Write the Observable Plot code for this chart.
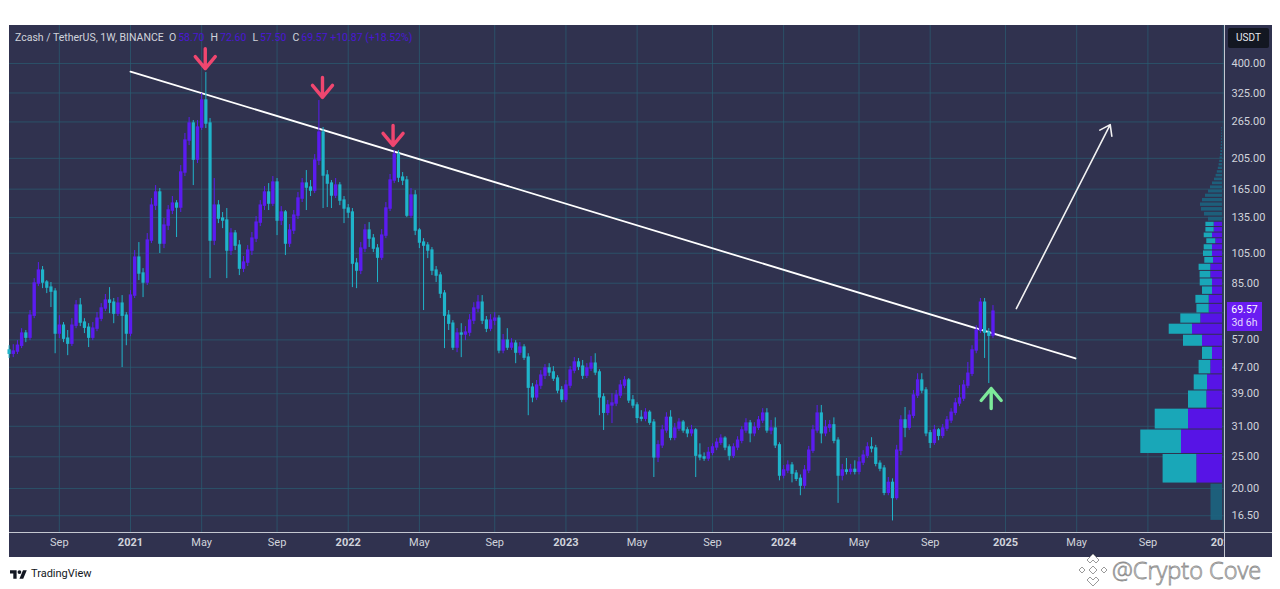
<!DOCTYPE html>
<html>
<head>
<meta charset="utf-8">
<script src="https://cdn.jsdelivr.net/npm/d3@7"></script>
<script src="https://cdn.jsdelivr.net/npm/@observablehq/plot@0.6"></script>
<style>
  html, body { margin: 0; padding: 0; background: #ffffff; }
  #wrap { position: relative; width: 1280px; height: 589px; overflow: hidden; background: #ffffff; font-family: Roboto, "Open Sans", sans-serif; }
  .abs { position: absolute; }
  #main { position: absolute; left: 9px; top: 25px; }
  #vp { position: absolute; left: 1002px; top: 25px; }
  #header { left: 15px; top: 31px; font-size: 10.5px; line-height: 14px; color: #d1d4dc; white-space: nowrap; }
  #header .v { color: #4a17d4; margin-right: 6px; }
  #header .k { margin-right: 2px; }
  #usdt { left: 1228px; top: 28px; width: 41px; height: 20px; background: #131722; color: #e6e8ee; font-size: 10px; line-height: 20px; text-align: center; border-radius: 2px; }
  #lastbox { left: 1227px; width: 35px; height: 29px; background: #6a1df2; color: #ffffff; font-size: 10.5px; text-align: center; line-height: 13px; padding-top: 1px; box-sizing: border-box; }
  #lastbox .cd { color: #e4dcff; }
  #footer { left: 10px; top: 567px; font-size: 11px; color: #131722; display: flex; align-items: center; gap: 4px; }
  #wm { left: 1077px; top: 553px; display: flex; align-items: center; gap: 3px; }
  #wm span { font-family: "Open Sans", sans-serif; font-weight: 300; font-size: 23.5px; color: #fbfbfb; -webkit-text-stroke: 0.8px #8f8f8f; letter-spacing: 0px; white-space: nowrap; }
</style>
</head>
<body>
<div id="wrap">
  <div id="main"></div>
  <div id="vp"></div>
</div>
<script>
// ---------------- DATA ----------------
const pairTitle = "Zcash / TetherUS, 1W, BINANCE";
const firstWeek = "2020-06-15";
const firstOpen = 52.9;
const closes = [
  51.7, 52.5, 54.7, 59.6, 57.9, 67.6, 84.8, 92.9, 85.4, 82.4,
  80.1, 59.6, 63.0, 57.5, 55.5, 63.0, 72.6, 64.4, 62.1, 57.9,
  61.7, 66.2, 71.1, 75.2, 74.1, 68.6, 73.6, 67.6, 59.6, 77.9,
  101.8, 91.0, 85.4, 114.8, 146.9, 161.1, 112.4, 127.6, 141.9, 149.0,
  144.9, 185.5, 232.4, 262.0, 203.2, 254.7, 308.1, 262.0, 114.8, 146.9,
  134.1, 132.2, 107.0, 120.6, 110.8, 94.2, 98.3, 107.0, 116.4, 130.3,
  146.9, 161.1, 149.0, 172.8, 132.2, 139.9, 112.4, 123.2, 136.9, 154.4,
  171.6, 166.8, 163.3, 201.8, 245.9, 181.6, 171.6, 157.7, 169.2, 152.2,
  143.9, 139.9, 97.6, 92.9, 108.5, 123.2, 116.4, 108.5, 101.8, 118.9,
  143.9, 175.3, 210.5, 179.0, 175.3, 136.9, 157.7, 123.2, 113.2, 110.8,
  107.0, 92.9, 89.7, 79.0, 67.6, 63.9, 54.0, 59.6, 59.2, 60.0,
  65.3, 71.1, 74.1, 65.3, 61.7, 65.3, 66.2, 52.9, 56.7, 54.0,
  55.5, 52.1, 54.0, 50.3, 40.7, 38.0, 41.3, 44.3, 46.6, 45.3,
  43.4, 39.9, 37.4, 41.3, 45.9, 48.6, 47.2, 44.3, 46.6, 48.2,
  45.3, 38.0, 34.1, 35.9, 36.4, 38.5, 41.3, 42.8, 37.2, 35.9,
  32.9, 32.7, 34.1, 31.8, 24.9, 27.1, 30.1, 32.9, 28.6, 30.5,
  31.8, 30.1, 29.5, 30.1, 25.2, 24.9, 24.7, 25.7, 26.7, 27.6,
  28.4, 26.7, 25.2, 26.7, 28.0, 30.1, 31.6, 29.5, 30.7, 32.3,
  33.9, 30.1, 30.5, 27.1, 21.9, 22.7, 23.5, 22.2, 21.4, 20.4,
  22.7, 26.1, 30.1, 33.9, 29.5, 30.7, 31.2, 28.0, 21.9, 22.7,
  22.5, 22.8, 22.5, 24.0, 25.2, 26.7, 26.5, 23.8, 23.0, 19.4,
  20.8, 18.7, 26.1, 32.3, 30.7, 33.4, 38.5, 42.8, 39.9, 29.5,
  27.6, 30.1, 29.0, 30.5, 32.3, 34.1, 36.4, 37.7, 41.3, 44.9,
  52.9, 60.9, 74.1, 60.0, 58.7, 69.57
];
const highs = [
  54.7, 55.1, 56.7, 61.7, 60.9, 70.1, 87.8, 98.3, 95.6, 86.6,
  85.4, 81.8, 67.6, 64.4, 60.9, 66.2, 75.2, 76.3, 66.2, 63.9,
  64.4, 69.1, 73.6, 78.5, 82.4, 76.3, 76.8, 77.9, 69.1, 80.7,
  107.0, 113.2, 94.2, 120.6, 154.4, 169.2, 165.7, 134.1, 146.9, 156.6,
  152.2, 194.8, 244.2, 273.3, 267.6, 267.6, 323.7, 375.4, 271.4, 177.8,
  152.2, 139.9, 143.9, 124.9, 123.2, 114.8, 102.6, 110.8, 121.5, 136.0,
  152.2, 168.0, 171.6, 180.3, 177.8, 145.9, 141.9, 128.5, 141.9, 161.1,
  177.8, 188.1, 175.3, 210.5, 308.1, 254.7, 188.1, 175.3, 177.8, 172.8,
  156.6, 148.0, 143.9, 101.1, 113.2, 128.5, 130.3, 119.8, 111.6, 124.1,
  150.1, 182.9, 216.6, 216.6, 185.5, 180.3, 165.7, 163.3, 124.9, 116.4,
  113.2, 109.3, 95.6, 91.6, 80.7, 70.1, 65.3, 61.7, 63.9, 62.6,
  68.1, 74.1, 77.9, 77.9, 67.2, 68.1, 69.1, 67.6, 59.2, 61.7,
  57.5, 56.7, 55.9, 55.1, 51.7, 41.9, 42.8, 45.9, 47.9, 48.2,
  47.2, 44.3, 41.0, 42.8, 47.2, 50.3, 50.0, 49.3, 48.2, 50.7,
  51.7, 46.2, 39.0, 37.2, 39.0, 39.9, 42.8, 44.0, 43.4, 38.5,
  36.6, 34.6, 35.1, 34.6, 32.5, 28.0, 31.2, 34.1, 34.6, 31.6,
  32.7, 32.3, 30.7, 31.2, 30.5, 27.4, 25.7, 26.7, 27.4, 28.4,
  29.2, 28.8, 27.2, 27.4, 28.8, 30.9, 32.7, 32.3, 31.8, 33.2,
  35.1, 35.1, 32.3, 32.9, 27.6, 23.5, 24.3, 24.0, 22.7, 22.0,
  23.5, 26.9, 31.2, 35.9, 35.9, 32.3, 32.3, 32.9, 28.6, 23.7,
  24.7, 23.7, 24.3, 24.9, 26.1, 27.6, 28.6, 27.1, 24.3, 23.5,
  21.6, 21.4, 27.1, 33.4, 35.4, 34.6, 39.9, 44.9, 44.9, 40.7,
  30.1, 31.2, 30.5, 31.4, 33.2, 35.1, 37.7, 41.3, 42.8, 48.6,
  54.7, 63.0, 76.3, 76.3, 61.7, 72.6
];
const lows = [
  50.0, 50.3, 51.4, 53.6, 55.9, 56.7, 66.2, 83.0, 81.8, 79.0,
  71.6, 51.7, 57.5, 55.9, 51.0, 54.4, 61.7, 62.6, 59.6, 54.0,
  56.7, 60.4, 64.8, 69.6, 68.6, 63.9, 67.2, 46.9, 54.7, 58.3,
  76.3, 86.6, 76.8, 83.6, 112.4, 141.9, 104.8, 108.5, 123.2, 137.9,
  117.3, 139.9, 180.3, 224.3, 169.2, 197.6, 249.4, 252.9, 87.8, 110.8,
  129.4, 124.9, 87.8, 103.3, 107.0, 89.7, 91.6, 95.6, 103.3, 113.2,
  126.7, 141.9, 141.9, 145.9, 118.9, 127.6, 103.3, 109.3, 119.8, 133.1,
  150.1, 141.9, 156.6, 159.9, 194.8, 143.9, 144.9, 143.9, 154.4, 146.9,
  129.4, 134.1, 82.4, 81.8, 90.3, 105.5, 109.3, 105.5, 85.4, 99.7,
  116.4, 140.9, 171.6, 172.8, 169.2, 135.0, 134.1, 118.9, 108.5, 70.1,
  101.1, 89.7, 85.4, 76.3, 53.6, 60.9, 52.9, 52.1, 50.3, 56.7,
  58.3, 63.5, 69.1, 63.5, 60.0, 60.4, 63.0, 51.7, 51.7, 52.9,
  52.9, 48.2, 51.0, 49.3, 33.4, 36.6, 37.2, 40.2, 43.1, 44.0,
  42.5, 39.0, 36.6, 36.6, 40.4, 44.9, 45.9, 43.1, 43.4, 45.6,
  44.3, 33.4, 30.1, 33.4, 31.6, 35.6, 37.7, 40.4, 36.4, 35.1,
  31.6, 32.0, 32.0, 31.2, 21.6, 24.0, 26.5, 29.5, 28.0, 28.0,
  29.9, 29.5, 28.6, 28.8, 21.6, 24.3, 24.2, 24.2, 25.2, 26.1,
  27.1, 26.1, 24.3, 24.7, 26.1, 27.4, 29.5, 27.6, 28.8, 30.1,
  31.6, 29.5, 29.2, 26.5, 21.1, 21.4, 22.2, 20.8, 21.0, 19.0,
  19.9, 22.2, 25.6, 29.5, 27.4, 28.8, 29.7, 27.4, 18.0, 21.1,
  22.0, 22.0, 22.0, 22.0, 23.5, 24.7, 25.7, 23.3, 22.5, 19.0,
  19.0, 15.9, 18.4, 25.2, 28.6, 30.1, 32.7, 37.7, 39.0, 28.8,
  26.5, 27.1, 28.0, 28.4, 29.9, 31.6, 33.4, 35.6, 36.9, 40.4,
  44.0, 51.7, 59.6, 50.0, 41.9, 57.5
];
const countdown = "3d 6h";

// price axis
const priceTicks = [400, 325, 265, 205, 165, 135, 105, 85, 57, 47, 39, 31, 25, 20, 16.5];
const gridPrices = [400, 325, 265, 205, 165, 135, 105, 85, 69, 57, 47, 39, 31, 25, 20, 16.5];
// time axis
const timeTickDates = ["2020-09-07","2021-01-04","2021-05-03","2021-09-06","2022-01-03","2022-05-02","2022-09-05",
  "2023-01-02","2023-05-01","2023-09-04","2024-01-01","2024-05-06","2024-09-02","2025-01-06","2025-05-05","2025-09-01","2026-01-05"];
const timeTickLabels = ["Sep","2021","May","Sep","2022","May","Sep","2023","May","Sep","2024","May","Sep","2025","May","Sep","2026"];

// drawings
const trendDates = ["2021-01-04", "2025-05-03"];
const trendPrices = [378, 50];
const projectionDates = ["2025-01-24", "2025-06-30"];
const projectionPrices = [71.1, 260];
const sellMarkDates = ["2021-05-09", "2021-11-21", "2022-03-19"];
const sellMarkPrices = [414, 338, 241];
const buyMarkDates = ["2024-12-13"];
const buyMarkPrices = [37.7];

// visible-range volume profile (rows of equal price size)
const vpRowStart = 15.9;
const vpRowSize = 4.8;
const vpUp = [2.5, 25.7, 41, 34, 15.7, 15, 11.7, 10, 20, 30, 21.7, 13.3, 13.3, 10, 10, 11.7, 11.7, 9, 10, 10, 6.7, 10, 8.3, 8.3,
  7, 9, 10.5, 11, 10, 8.5, 7, 6, 5, 4, 3.2, 2.6, 2.1, 1.7, 1.4, 1.2, 1, 0.8, 0.7, 0.6, 0.5, 0.5, 0.5, 0.4, 0.4, 0.4];
const vpDown = [9, 33.7, 40.7, 33.3, 18.3, 13.3, 11.7, 10, 19, 23.3, 20, 12.3, 13.3, 10, 12.3, 10.7, 11.7, 8.7, 9, 8.3, 9, 8.3, 8.3, 8.3,
  7, 9, 10.5, 11, 10, 8.5, 7, 6, 5, 4, 3.2, 2.6, 2.1, 1.7, 1.4, 1.2, 1, 0.8, 0.7, 0.6, 0.5, 0.5, 0.5, 0.4, 0.4, 0.4];
const vpValueAreaFirst = 1, vpValueAreaLast = 23;

// ---------------- STYLE ----------------
const BG = "#30324f", GRID = "#2a5e74", TXT = "#d1d4dc";
const UP = "#5b1cf0", DOWN = "#1fb4ca";
const VP_UP = "#5714e6", VP_DOWN = "#19a7b8", VP_DIM = "#1c6480";
const RED = "#f0466f", GREEN = "#7de99a";

// ---------------- BUILD ----------------
const D = s => new Date(s + "T00:00:00Z");
const start = D(firstWeek);
const candles = closes.map((c, i) => {
  const open = i === 0 ? firstOpen : closes[i - 1];
  return {date: d3.utcDay.offset(start, 7 * i), open, close: c, high: highs[i], low: lows[i],
          top: Math.max(open, c), bot: Math.min(open, c), up: c >= open};
});
const upC = candles.filter(d => d.up), downC = candles.filter(d => !d.up);
const ticks = timeTickDates.map((s, i) => ({date: D(s), label: timeTickLabels[i], year: /^\d{4}$/.test(timeTickLabels[i])}));
const trend = trendDates.map((s, i) => ({date: D(s), price: trendPrices[i]}));
const projection = [{x1: D(projectionDates[0]), y1: projectionPrices[0], x2: D(projectionDates[1]), y2: projectionPrices[1]}];
const sells = sellMarkDates.map((s, i) => ({date: D(s), price: sellMarkPrices[i]}));
const buys = buyMarkDates.map((s, i) => ({date: D(s), price: buyMarkPrices[i]}));
const vpRows = vpUp.map((u, i) => ({low: vpRowStart + i * vpRowSize, high: vpRowStart + (i + 1) * vpRowSize,
  up: u, down: vpDown[i], va: i >= vpValueAreaFirst && i <= vpValueAreaLast}));

const arrowDown = {draw(ctx, size) { const s = Math.sqrt(size / Math.PI);
  ctx.moveTo(0, -s); ctx.lineTo(0, s); ctx.moveTo(-s, -0.2 * s); ctx.lineTo(0, s); ctx.lineTo(s, -0.2 * s); }};
const arrowUp = {draw(ctx, size) { const s = Math.sqrt(size / Math.PI);
  ctx.moveTo(0, s); ctx.lineTo(0, -s); ctx.moveTo(-s, 0.2 * s); ctx.lineTo(0, -s); ctx.lineTo(s, 0.2 * s); }};

const xDomain = [new Date("2020-06-15T17:00:00Z"), new Date("2026-01-07T02:00:00Z")];
const yDomain = [14.66, 523];
const W = 1263, H = 532, MR = 48, MB = 25;

const main = Plot.plot({
  width: W, height: H, marginTop: 0, marginLeft: 0, marginRight: MR, marginBottom: MB,
  style: {background: BG, color: TXT, fontFamily: "Roboto, sans-serif", fontSize: "11px", overflow: "visible"},
  x: {type: "utc", domain: xDomain, axis: null},
  y: {type: "log", domain: yDomain, axis: null},
  marks: [
    Plot.ruleY(gridPrices, {stroke: GRID, strokeOpacity: 0.7}),
    Plot.ruleX(ticks, {x: "date", stroke: GRID, strokeOpacity: 0.7}),
    Plot.line(trend, {x: "date", y: "price", stroke: "#ffffff", strokeWidth: 1.8}),
    Plot.ruleX(downC, {x: "date", y1: "high", y2: "low", stroke: DOWN, strokeWidth: 1}),
    Plot.ruleX(downC, {x: "date", y1: "top", y2: "bot", stroke: DOWN, strokeWidth: 3.2, insetTop: -0.7, insetBottom: -0.7}),
    Plot.ruleX(upC, {x: "date", y1: "high", y2: "low", stroke: UP, strokeWidth: 1}),
    Plot.ruleX(upC, {x: "date", y1: "top", y2: "bot", stroke: UP, strokeWidth: 3.4, insetTop: -0.7, insetBottom: -0.7}),
    Plot.arrow(projection, {x1: "x1", y1: "y1", x2: "x2", y2: "y2", stroke: "#f2f2f2", strokeWidth: 1.6, headLength: 11, headAngle: 70}),
    Plot.dot(sells, {x: "date", y: "price", symbol: arrowDown, r: 10, fill: "none", stroke: RED, strokeWidth: 3.4, strokeLinecap: "round", strokeLinejoin: "round"}),
    Plot.dot(buys, {x: "date", y: "price", symbol: arrowUp, r: 10, fill: "none", stroke: GREEN, strokeWidth: 3.4, strokeLinecap: "round", strokeLinejoin: "round"}),
    Plot.text(priceTicks, {y: d => d, text: d => d.toFixed(2), frameAnchor: "right", textAnchor: "start", dx: 7, fill: TXT, fontSize: 11}),
    Plot.text(ticks.filter(d => !d.year), {x: "date", text: "label", frameAnchor: "bottom", dy: 13, fill: TXT, fontSize: 11}),
    Plot.text(ticks.filter(d => d.year), {x: "date", text: "label", frameAnchor: "bottom", dy: 13, fill: TXT, fontSize: 11, fontWeight: "bold"})
  ]
});
document.getElementById("main").appendChild(main);

const VPW = 220;
const vp = Plot.plot({
  width: VPW, height: H, marginTop: 0, marginLeft: 0, marginRight: 0, marginBottom: MB,
  style: {background: "transparent", overflow: "visible"},
  x: {domain: [0, VPW], reverse: true, axis: null},
  y: {type: "log", domain: yDomain, axis: null},
  marks: [
    Plot.rect(vpRows.filter(d => d.va), {x1: 0, x2: "up", y1: "low", y2: "high", fill: VP_UP, insetTop: 0.5, insetBottom: 0.5}),
    Plot.rect(vpRows.filter(d => d.va), {x1: "up", x2: d => d.up + d.down, y1: "low", y2: "high", fill: VP_DOWN, insetTop: 0.5, insetBottom: 0.5}),
    Plot.rect(vpRows.filter(d => !d.va), {x1: 0, x2: d => d.up + d.down, y1: "low", y2: "high", fill: VP_DIM, fillOpacity: 0.9, insetTop: 0.6, insetBottom: 0.6})
  ]
});
document.getElementById("vp").appendChild(vp);

// ---------------- OVERLAYS ----------------
const wrap = document.getElementById("wrap");
function addDiv(css, html) { const d = document.createElement("div"); d.className = "abs"; d.style.cssText = css; if (html) d.innerHTML = html; wrap.appendChild(d); return d; }

// corner of the axes, separators
addDiv(`left:1225px;top:533px;width:47px;height:24px;background:${BG};`);
addDiv(`left:1224px;top:25px;width:1px;height:532px;background:#c4c7d0;`);
addDiv(`left:9px;top:532px;width:1263px;height:1px;background:#c4c7d0;`);

// header
const last = candles[candles.length - 1];
const chg = last.close - last.open;
const fmt = v => v.toFixed(2);
const hdr = addDiv("", `${pairTitle}&nbsp;&nbsp;<span class="k">O</span><span class="v">${fmt(last.open)}</span><span class="k">H</span><span class="v">${fmt(last.high)}</span><span class="k">L</span><span class="v">${fmt(last.low)}</span><span class="k">C</span><span class="v">${fmt(last.close)} +${fmt(chg)} (+${fmt(chg / last.open * 100)}%)</span>`);
hdr.id = "header";

// USDT
const u = addDiv("", "USDT"); u.id = "usdt";

// last price label
const ys = main.scale("y");
const yPx = ys.apply ? ys.apply(last.close) : d3.scaleLog().domain(yDomain).range([H - MB, 0])(last.close);
const lb = addDiv(`top:${25 + yPx - 9}px;`, `<div>${fmt(last.close)}</div><div class="cd">${countdown}</div>`);
lb.id = "lastbox";

// footer
const ft = addDiv("", `<svg width="17" height="11" viewBox="0 0 36 22"><path fill="#131722" d="M14 22H7V11H0V4h14v18zM28 22h-8l7.5-18h8L28 22z"/><circle cx="20" cy="8" r="4" fill="#131722"/></svg><span>TradingView</span>`);
ft.id = "footer";

// watermark
const wm = addDiv("", `<svg width="32" height="34" viewBox="0 0 32 34"><g fill="#ffffff" stroke="#9a9a9a" stroke-width="1">
<path d="M16 1 L22 7 L19 10 L16 7 L13 10 L10 7 Z"/><path d="M16 33 L22 27 L19 24 L16 27 L13 24 L10 27 Z"/>
<path d="M5 14 L8 17 L5 20 L2 17 Z"/><path d="M27 14 L30 17 L27 20 L24 17 Z"/><path d="M16 13 L20 17 L16 21 L12 17 Z"/></g></svg><span>@Crypto Cove</span>`);
wm.id = "wm";
</script>
</body>
</html>
